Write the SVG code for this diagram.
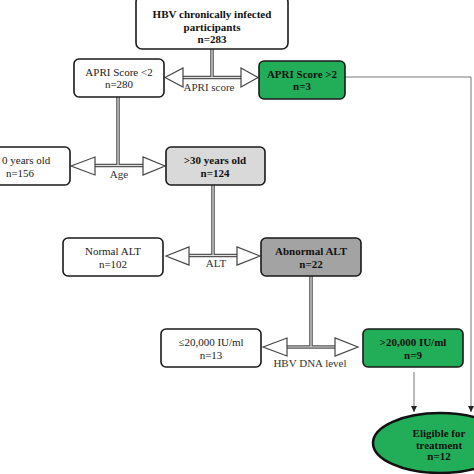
<svg xmlns="http://www.w3.org/2000/svg" width="474" height="474" viewBox="0 0 474 474">
<style>
text{font-family:"Liberation Serif","Times New Roman",serif;font-size:11px;fill:#222;text-anchor:middle}
.b{font-weight:bold;fill:#111}
.box{stroke:#1a1a1a;stroke-width:1.6}
.w{fill:#fff}.g{fill:#22ad58}.lg{fill:#d9d9d9}.dg{fill:#a3a3a3}
.sh{fill:none;stroke:#555;stroke-width:3.6}
.si{fill:none;stroke:#e2e2e2;stroke-width:1.2}
.ah{fill:#fff;stroke:#444;stroke-width:1.2}
.ln{fill:none;stroke:#777;stroke-width:1}
.lbl{fill:#333}
</style>
<defs>
<marker id="m" markerWidth="8" markerHeight="8" refX="6" refY="3" orient="auto" markerUnits="userSpaceOnUse">
<path d="M0,0 L6,3 L0,6 Z" fill="#222"/>
</marker>
</defs>
<g id="connectors">
<!-- top split -->
<path class="sh" d="M212,49 V77.5 M180,77.5 H244"/>
<path class="si" d="M212,49 V77.5 M180,77.5 H244"/>
<polygon class="ah" points="165,77.5 183,68 183,87"/>
<polygon class="ah" points="258,77.5 241,68 241,87"/>
<!-- age split -->
<path class="sh" d="M118,97 V165.5 M92,165.5 H146"/>
<path class="si" d="M118,97 V165.5 M92,165.5 H146"/>
<polygon class="ah" points="71,166 95,157 95,175"/>
<polygon class="ah" points="165,166 143,157 143,175"/>
<!-- ALT split -->
<path class="sh" d="M213,185 V255.5 M186,255.5 H240"/>
<path class="si" d="M213,185 V255.5 M186,255.5 H240"/>
<polygon class="ah" points="166,256 189,247 189,265"/>
<polygon class="ah" points="260,256 237,247 237,265"/>
<!-- DNA split -->
<path class="sh" d="M311,276 V347 M284,347 H338"/>
<path class="si" d="M311,276 V347 M284,347 H338"/>
<polygon class="ah" points="263,347 287,338 287,356"/>
<polygon class="ah" points="358,347 335,338 335,356"/>
<!-- to eligible -->
<path class="ln" d="M345,77 H471 V412" marker-end="url(#m)"/>
<path class="ln" d="M414,372 V412" marker-end="url(#m)"/>
<text class="lbl" x="209" y="91">APRI score</text>
<text class="lbl" x="119" y="178">Age</text>
<text class="lbl" x="216" y="267">ALT</text>
<text class="lbl" x="310" y="367">HBV DNA level</text>
</g>
<g id="n-all">
<rect class="box w" x="136" y="-4" width="152" height="53" rx="6"/>
<text class="b" x="212" y="18">HBV chronically infected</text>
<text class="b" x="212" y="31">participants</text>
<text class="b" x="212" y="43">n=283</text>
</g>
<g id="n-apri-low">
<rect class="box w" x="74" y="59" width="90" height="38" rx="5"/>
<text x="119" y="76">APRI Score &lt;2</text>
<text x="119" y="88">n=280</text>
</g>
<g id="n-apri-high">
<rect class="box g" x="259" y="61" width="86" height="38" rx="5"/>
<text class="b" x="302" y="78">APRI Score &gt;2</text>
<text class="b" x="302" y="90">n=3</text>
</g>
<g id="n-age-low">
<rect class="box w" x="-30" y="147" width="100" height="38" rx="5"/>
<text x="2" y="164" style="text-anchor:start">0 years old</text>
<text x="20" y="177">n=156</text>
</g>
<g id="n-age-high">
<rect class="box lg" x="166" y="147" width="99" height="38" rx="5"/>
<text class="b" x="215" y="164">&gt;30 years old</text>
<text class="b" x="215" y="177">n=124</text>
</g>
<g id="n-alt-normal">
<rect class="box w" x="63" y="238" width="100" height="38" rx="5"/>
<text x="113" y="255">Normal ALT</text>
<text x="113" y="268">n=102</text>
</g>
<g id="n-alt-abnormal">
<rect class="box dg" x="261" y="238" width="100" height="38" rx="5"/>
<text class="b" x="311" y="255">Abnormal ALT</text>
<text class="b" x="311" y="268">n=22</text>
</g>
<g id="n-dna-low">
<rect class="box w" x="161" y="329" width="100" height="38" rx="5"/>
<text x="211" y="346">≤20,000 IU/ml</text>
<text x="211" y="359">n=13</text>
</g>
<g id="n-dna-high">
<rect class="box g" x="363" y="329" width="100" height="38" rx="5"/>
<text class="b" x="413" y="346">&gt;20,000 IU/ml</text>
<text class="b" x="413" y="359">n=9</text>
</g>
<g id="n-eligible">
<ellipse cx="440" cy="443" rx="67" ry="30" fill="#22ad58" stroke="#111" stroke-width="2.5"/>
<text class="b" x="439" y="437">Eligible for</text>
<text class="b" x="439" y="449">treatment</text>
<text class="b" x="439" y="460">n=12</text>
</g>
</svg>
